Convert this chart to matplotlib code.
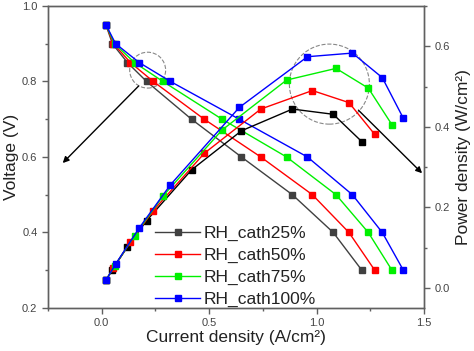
from matplotlib import pyplot as plt
from matplotlib.patches import Ellipse
import numpy as np

plt.rcParams['font.family'] = ['Liberation Sans', 'DejaVu Sans']

# voltage steps shared by all curves
volts = [0.95, 0.90, 0.85, 0.80, 0.70, 0.60, 0.50, 0.40, 0.30]

labels = ['RH_cath25%', 'RH_cath50%', 'RH_cath75%', 'RH_cath100%']

# current density (A/cm2)
curr_25 = [0.02, 0.05, 0.12, 0.209, 0.418, 0.65, 0.887, 1.077, 1.21]
curr_50 = [0.02, 0.055, 0.134, 0.24, 0.477, 0.74, 0.98, 1.15, 1.27]
curr_75 = [0.02, 0.06, 0.153, 0.285, 0.56, 0.86, 1.09, 1.24, 1.35]
curr_100 = [0.02, 0.065, 0.175, 0.32, 0.64, 0.957, 1.166, 1.305, 1.403]

# power density (W/cm2)
pow_25 = [0.019, 0.045, 0.102, 0.167, 0.293, 0.39, 0.444, 0.431, 0.363]
pow_50 = [0.019, 0.050, 0.114, 0.192, 0.334, 0.444, 0.49, 0.46, 0.381]
pow_75 = [0.019, 0.054, 0.130, 0.228, 0.392, 0.516, 0.545, 0.496, 0.405]
pow_100 = [0.019, 0.059, 0.149, 0.256, 0.448, 0.574, 0.583, 0.522, 0.421]

currs = [curr_25, curr_50, curr_75, curr_100]
pows = [pow_25, pow_50, pow_75, pow_100]
v_colors = ['#404040', '#ff0000', '#00f000', '#0000ff']
p_colors = ['#000000', '#ff0000', '#00f000', '#0000ff']

spine_c = '#606060'
text_c = '#222222'

fig = plt.figure(figsize=(4.74, 3.51), dpi=100)
ax = fig.add_subplot(111)
fig.subplots_adjust(left=0.101, right=0.895, top=0.983, bottom=0.1225)
ax2 = ax.twinx()

for cur, c, lab in zip(currs, v_colors, labels):
    ax.plot(cur, volts, '-s', color=c, lw=1.0, ms=3.8, label=lab)
for cur, p, c in zip(currs, pows, p_colors):
    ax2.plot(cur, p, '-s', color=c, lw=1.0, ms=3.8)

ax.set_xlim(-0.246, 1.5)
ax.set_ylim(0.2, 1.0)
ax2.set_ylim(-0.05, 0.7)

ax.set_xticks([0.0, 0.5, 1.0, 1.5])
ax.set_xticks([-0.25, 0.25, 0.75, 1.25], minor=True)
ax.set_yticks([0.2, 0.4, 0.6, 0.8, 1.0])
ax.set_yticks([0.3, 0.5, 0.7, 0.9], minor=True)
ax2.set_yticks([0.0, 0.2, 0.4, 0.6])
ax2.set_yticks([0.1, 0.3, 0.5, 0.7], minor=True)

for a in (ax, ax2):
    for s in a.spines.values():
        s.set_color(spine_c)
        s.set_linewidth(1.0)
    a.tick_params(which='major', direction='out', length=4, width=1.0,
                  color=spine_c, labelsize=8, labelcolor='#444444')
    a.tick_params(which='minor', direction='out', length=2.5, width=1.0,
                  color=spine_c)
ax.tick_params(axis='y', which='both', right=False)
ax2.tick_params(axis='y', which='both', left=False)

ax.set_xlabel('Current density (A/cm²)', fontsize=12.5, color=text_c, labelpad=1)
ax.set_ylabel('Voltage (V)', fontsize=12.5, color=text_c, labelpad=2)
ax2.set_ylabel('Power density (W/cm²)', fontsize=12.5, color=text_c, labelpad=4)

# dashed circles and arrows
ax.add_patch(Ellipse((0.214, 0.83), 0.167, 0.095, fill=False, ls='--',
                     lw=0.8, ec='#888888'))
ax.add_patch(Ellipse((1.059, 0.793), 0.372, 0.212, fill=False, ls='--',
                     lw=0.8, ec='#888888'))
ax.annotate('', xy=(-0.181, 0.584), xytext=(0.172, 0.788),
            arrowprops=dict(arrowstyle='-|>', color='black', lw=1.0,
                            mutation_scale=9, shrinkA=0, shrinkB=0))
ax.annotate('', xy=(1.49, 0.557), xytext=(1.194, 0.724),
            arrowprops=dict(arrowstyle='-|>', color='black', lw=1.0,
                            mutation_scale=9, shrinkA=0, shrinkB=0))

leg = ax.legend(loc='center left', bbox_to_anchor=(0.285, 0.138), frameon=False,
                fontsize=12.5, borderpad=0, borderaxespad=0, handlelength=2.6,
                handletextpad=0.2, labelspacing=0.38)
for t in leg.get_texts():
    t.set_color(text_c)
leg.set_zorder(5)

fig.savefig('out.png', dpi=100)
